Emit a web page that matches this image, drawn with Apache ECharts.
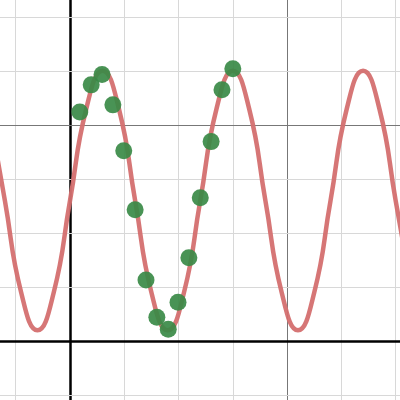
<!DOCTYPE html>
<html><head><meta charset="utf-8">
<script src="https://cdn.jsdelivr.net/npm/echarts@6/dist/echarts.min.js"></script>
<style>html,body{margin:0;padding:0;background:#fff}#c{width:400px;height:400px}</style>
</head><body><div id="c"></div>
<script>
const curveX=[-1.5,-1.2,-0.9,-0.6,-0.3,0,0.3,0.6,0.9,1.2,1.5,1.8,2.1,2.4,2.7,3.0,3.3,3.6,3.9,4.2,4.5,4.8,5.1,5.4,5.7,6.0,6.3];
const curveY=[4.3,2.6,0.9,0.2,0.9,2.6,4.3,5.0,4.3,2.6,0.9,0.2,0.9,2.6,4.3,5.0,4.3,2.6,0.9,0.2,0.9,2.6,4.3,5.0,4.3,2.6,0.9];
const dotX=[0.18,0.39,0.59,0.79,0.99,1.20,1.40,1.60,1.81,1.99,2.19,2.40,2.60,2.80,3.00];
const dotY=[4.24,4.74,4.93,4.37,3.52,2.43,1.13,0.44,0.22,0.72,1.54,2.65,3.69,4.65,5.04];
const gridX=[-1,0,1,2,3,4,5,6];
const gridY=[-1,0,1,2,3,4,5,6];
function lineStyleFor(v){
  if(v===0) return {color:'#000',width:2.5,type:'solid'};
  if(v%4===0) return {color:'#777',width:1,type:'solid'};
  return {color:'#d8d8d8',width:1,type:'solid'};
}
const ml=[];
gridX.forEach(v=>ml.push({xAxis:v,lineStyle:lineStyleFor(v)}));
gridY.forEach(v=>ml.push({yAxis:v,lineStyle:lineStyleFor(v)}));
const chart=echarts.init(document.getElementById('c'));
chart.setOption({
  animation:false,
  grid:{left:0,right:0,top:0,bottom:0},
  xAxis:{type:'value',min:-1.29,max:6.08,show:false},
  yAxis:{type:'value',min:-1.09,max:6.31,show:false},
  series:[
    {type:'line',data:[],silent:true,markLine:{silent:true,symbol:'none',label:{show:false},data:ml,z:1}},
    {type:'line',smooth:0.5,symbol:'none',data:curveX.map((x,i)=>[x,curveY[i]]),
     lineStyle:{color:'#d46f6f',width:4.5,opacity:0.95},z:3},
    {type:'scatter',symbolSize:17,data:dotX.map((x,i)=>[x,dotY[i]]),
     itemStyle:{color:'#3a8a47',opacity:0.92},z:4}
  ]
});
</script></body></html>
